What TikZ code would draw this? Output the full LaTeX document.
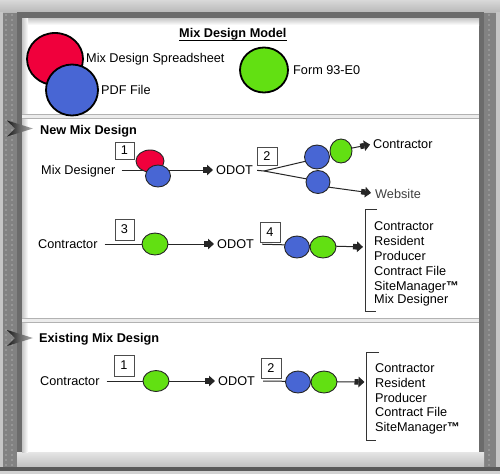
\documentclass[tikz,border=0pt]{standalone}
\usepackage{fontspec}
\setmainfont{Liberation Sans}
\usetikzlibrary{shapes.geometric,arrows.meta}
\definecolor{mdred}{RGB}{240,0,60}
\definecolor{mdblue}{RGB}{72,102,212}
\definecolor{mdgreen}{RGB}{98,224,18}
\definecolor{framegray}{RGB}{130,130,130}
\definecolor{texgray}{RGB}{150,150,150}
\pgfdeclarelayer{back}
\pgfdeclarelayer{links}
\pgfsetlayers{back,links,main}
\begin{document}
\begin{tikzpicture}[x=1pt,y=-1pt,
  txt/.style={font=\fontsize{12.7}{15}\selectfont, inner sep=0pt, anchor=west, text height=9.2pt, text depth=0pt},
  hd/.style={txt, font=\fontsize{12.7}{15}\selectfont\bfseries},
  numbox/.style={draw=black!70, line width=0.8pt, fill=white, minimum width=20pt, minimum height=19pt, inner sep=0pt, font=\fontsize{12.7}{15}\selectfont},
  disc/.style={ellipse, draw=black!85, line width=0.9pt, inner sep=0pt},
  bigdisc/.style={ellipse, draw=black, line width=1.8pt, inner sep=0pt},
  link/.style={draw=black!85, line width=1pt},
  blockarrow/.style={-{Rectangle[length=4pt,width=5.5pt,sep=0pt]Triangle[length=6pt,width=10.5pt]}},
  bracketline/.style={draw=black!80, line width=0.9pt},
  dart/.style={left color=black!90, right color=gray!60}
]
\useasboundingbox (0,0) rectangle (500,474);

% ---------- frame ----------
\begin{pgfonlayer}{back}
\fill[framegray] (0,0) rectangle (500,474);
\shade[top color=gray!30, bottom color=gray!55] (0,0) rectangle (500,12);
\fill[gray!45] (0,12) rectangle (3,474);
\fill[gray!45] (496,12) rectangle (500,474);
\foreach \xx in {6,12}{
  \draw[texgray, line width=1.5pt, dash pattern=on 2pt off 3pt] (\xx,14) -- (\xx,466);}
\draw[texgray, line width=1.5pt, dash pattern=on 2pt off 3pt] (489,14) -- (489,466);
\fill[black!58] (17,12) rectangle (484,18);
\fill[black!58] (17,12) rectangle (22,455);
\fill[black!58] (479,12) rectangle (484,455);
\shade[top color=gray!20, bottom color=gray!50] (17,452) rectangle (484,467);
\fill[black!65] (0,467) rectangle (500,471);
\fill[gray!35] (0,471) rectangle (500,474);
\fill[white] (22,18) rectangle (479,452);
\shade[top color=gray!45, bottom color=white] (22,18) rectangle (479,25);
\shade[left color=gray!45, right color=white] (22,18) rectangle (28,452);
% section bars
\foreach \yy in {114,318}{
  \fill[gray!15] (22,\yy) rectangle (479,\yy+4);
  \draw[gray!60, line width=0.6pt] (22,\yy) -- (479,\yy);
  \draw[gray!60, line width=0.6pt] (22,\yy+4) -- (479,\yy+4);}
% darts
\shade[dart] (7,120.5) -- (33,128.5) -- (7,136.5) -- (15,128.5) -- cycle;
\shade[dart] (7,330) -- (33,338) -- (7,346) -- (15,338) -- cycle;
\end{pgfonlayer}

% ---------- legend ----------
\node[hd] (title) at (179,33) {Mix Design Model};
\draw[line width=1.3pt] ([yshift=-2.5pt]title.south west) -- ([yshift=-2.5pt]title.south east);
\node[bigdisc, fill=mdred, minimum width=56pt, minimum height=52pt] (r0) at (55,59) {};
\node[bigdisc, fill=mdblue, minimum width=52pt, minimum height=51pt] (b0) at (72,90) {};
\node[bigdisc, fill=mdgreen, minimum width=48pt, minimum height=45pt] (g0) at (264,70) {};
\node[txt] (lsheet) at (86,58) {Mix Design Spreadsheet};
\node[txt] (lpdf) at (101,90) {PDF File};
\node[txt] (lform) at (293,70) {Form 93-E0};

% ---------- New Mix Design ----------
\node[hd] (newmd) at (40,130) {New Mix Design};
\node[txt] (md) at (41,170) {Mix Designer};
\node[numbox, minimum height=17pt, minimum width=19pt] (n1) at (124.5,150.5) {1};
\node[disc, fill=mdred, minimum width=28pt, minimum height=22pt] (r1) at (150,161) {};
\node[disc, fill=mdblue, minimum width=25pt, minimum height=22pt] (b1) at (158,176) {};
\node[txt] (o1) at (216,170) {ODOT};
\node[numbox, minimum height=18pt] (n2) at (267,156) {2};
\coordinate (s1) at (264,171);
\node[disc, fill=mdblue, minimum width=25pt, minimum height=24pt] (b2) at (317,157) {};
\node[disc, fill=mdgreen, minimum width=22pt, minimum height=24pt] (g2) at (341,151) {};
\node[disc, fill=mdblue, minimum width=24pt, minimum height=23pt] (b3) at (318,182) {};
\node[txt] (c1) at (373,144) {Contractor};
\node[txt, text=black!75] (w1) at (375,193.5) {Website};

\node[txt] (c2) at (38,244) {Contractor};
\node[numbox, minimum height=21pt, minimum width=19pt] (n3) at (124.5,229.5) {3};
\node[disc, fill=mdgreen, minimum width=26pt, minimum height=22pt] (g3) at (155,244) {};
\node[txt] (o2) at (217,244) {ODOT};
\node[numbox, minimum height=20pt] (n4) at (270,232) {4};
\node[disc, fill=mdblue, minimum width=25pt, minimum height=22pt] (b4) at (297,247) {};
\node[disc, fill=mdgreen, minimum width=26pt, minimum height=22pt] (g4) at (323,247) {};
\coordinate (k2) at (365,247);
\node[txt] (la1) at (374,225.5) {Contractor};
\node[txt] (la2) at (374,241) {Resident};
\node[txt] (la3) at (374,256) {Producer};
\node[txt] (la4) at (374,271) {Contract File};
\node[txt] (la5) at (374,285.5) {SiteManager{\bfseries ™}};
\node[txt] (la6) at (374,299) {Mix Designer};
\draw[bracketline] (377,209) -- (365,209) -- (365,311) -- (376,311);

% ---------- Existing Mix Design ----------
\node[hd] (exmd) at (39,338) {Existing Mix Design};
\node[txt] (c3) at (40,381) {Contractor};
\node[numbox, minimum height=21pt] (n5) at (124,365.5) {1};
\node[disc, fill=mdgreen, minimum width=26pt, minimum height=21pt] (g5) at (156,381) {};
\node[txt] (o3) at (218,381) {ODOT};
\node[numbox, minimum height=20pt] (n6) at (271,368) {2};
\node[disc, fill=mdblue, minimum width=25pt, minimum height=22pt] (b6) at (298,382) {};
\node[disc, fill=mdgreen, minimum width=26pt, minimum height=22pt] (g6) at (324,382) {};
\coordinate (k3) at (366,382);
\node[txt] (lb1) at (375,367.5) {Contractor};
\node[txt] (lb2) at (375,382.5) {Resident};
\node[txt] (lb3) at (375,397.5) {Producer};
\node[txt] (lb4) at (375,412) {Contract File};
\node[txt] (lb5) at (375,427) {SiteManager{\bfseries ™}};
\draw[bracketline] (379,352) -- (366,352) -- (366,440) -- (376,440);

% ---------- connectors ----------
\begin{pgfonlayer}{links}
\draw[link, blockarrow, shorten <=6pt, shorten >=3pt] (md.east) -- (o1.west);
\draw[link, shorten <=4pt] (o1.east) -- (s1);
\draw[link] (s1) -- (b2.200);
\draw[link] (s1) -- (b3.165);
\draw[link, blockarrow, shorten >=3pt] (g2.15) -- (c1.west);
\draw[link, blockarrow, shorten >=4pt] (b3.-25) -- (w1.west);
\draw[link, blockarrow, shorten <=7pt, shorten >=3pt] (c2.east) -- (o2.west);
\draw[link, blockarrow, shorten <=8pt, shorten >=2pt] (o2.east) -- (k2);
\draw[link, blockarrow, shorten <=7pt, shorten >=3pt] (c3.east) -- (o3.west);
\draw[link, blockarrow, shorten <=8pt, shorten >=1.5pt] (o3.east) -- (k3);
\end{pgfonlayer}
\end{tikzpicture}
\end{document}
